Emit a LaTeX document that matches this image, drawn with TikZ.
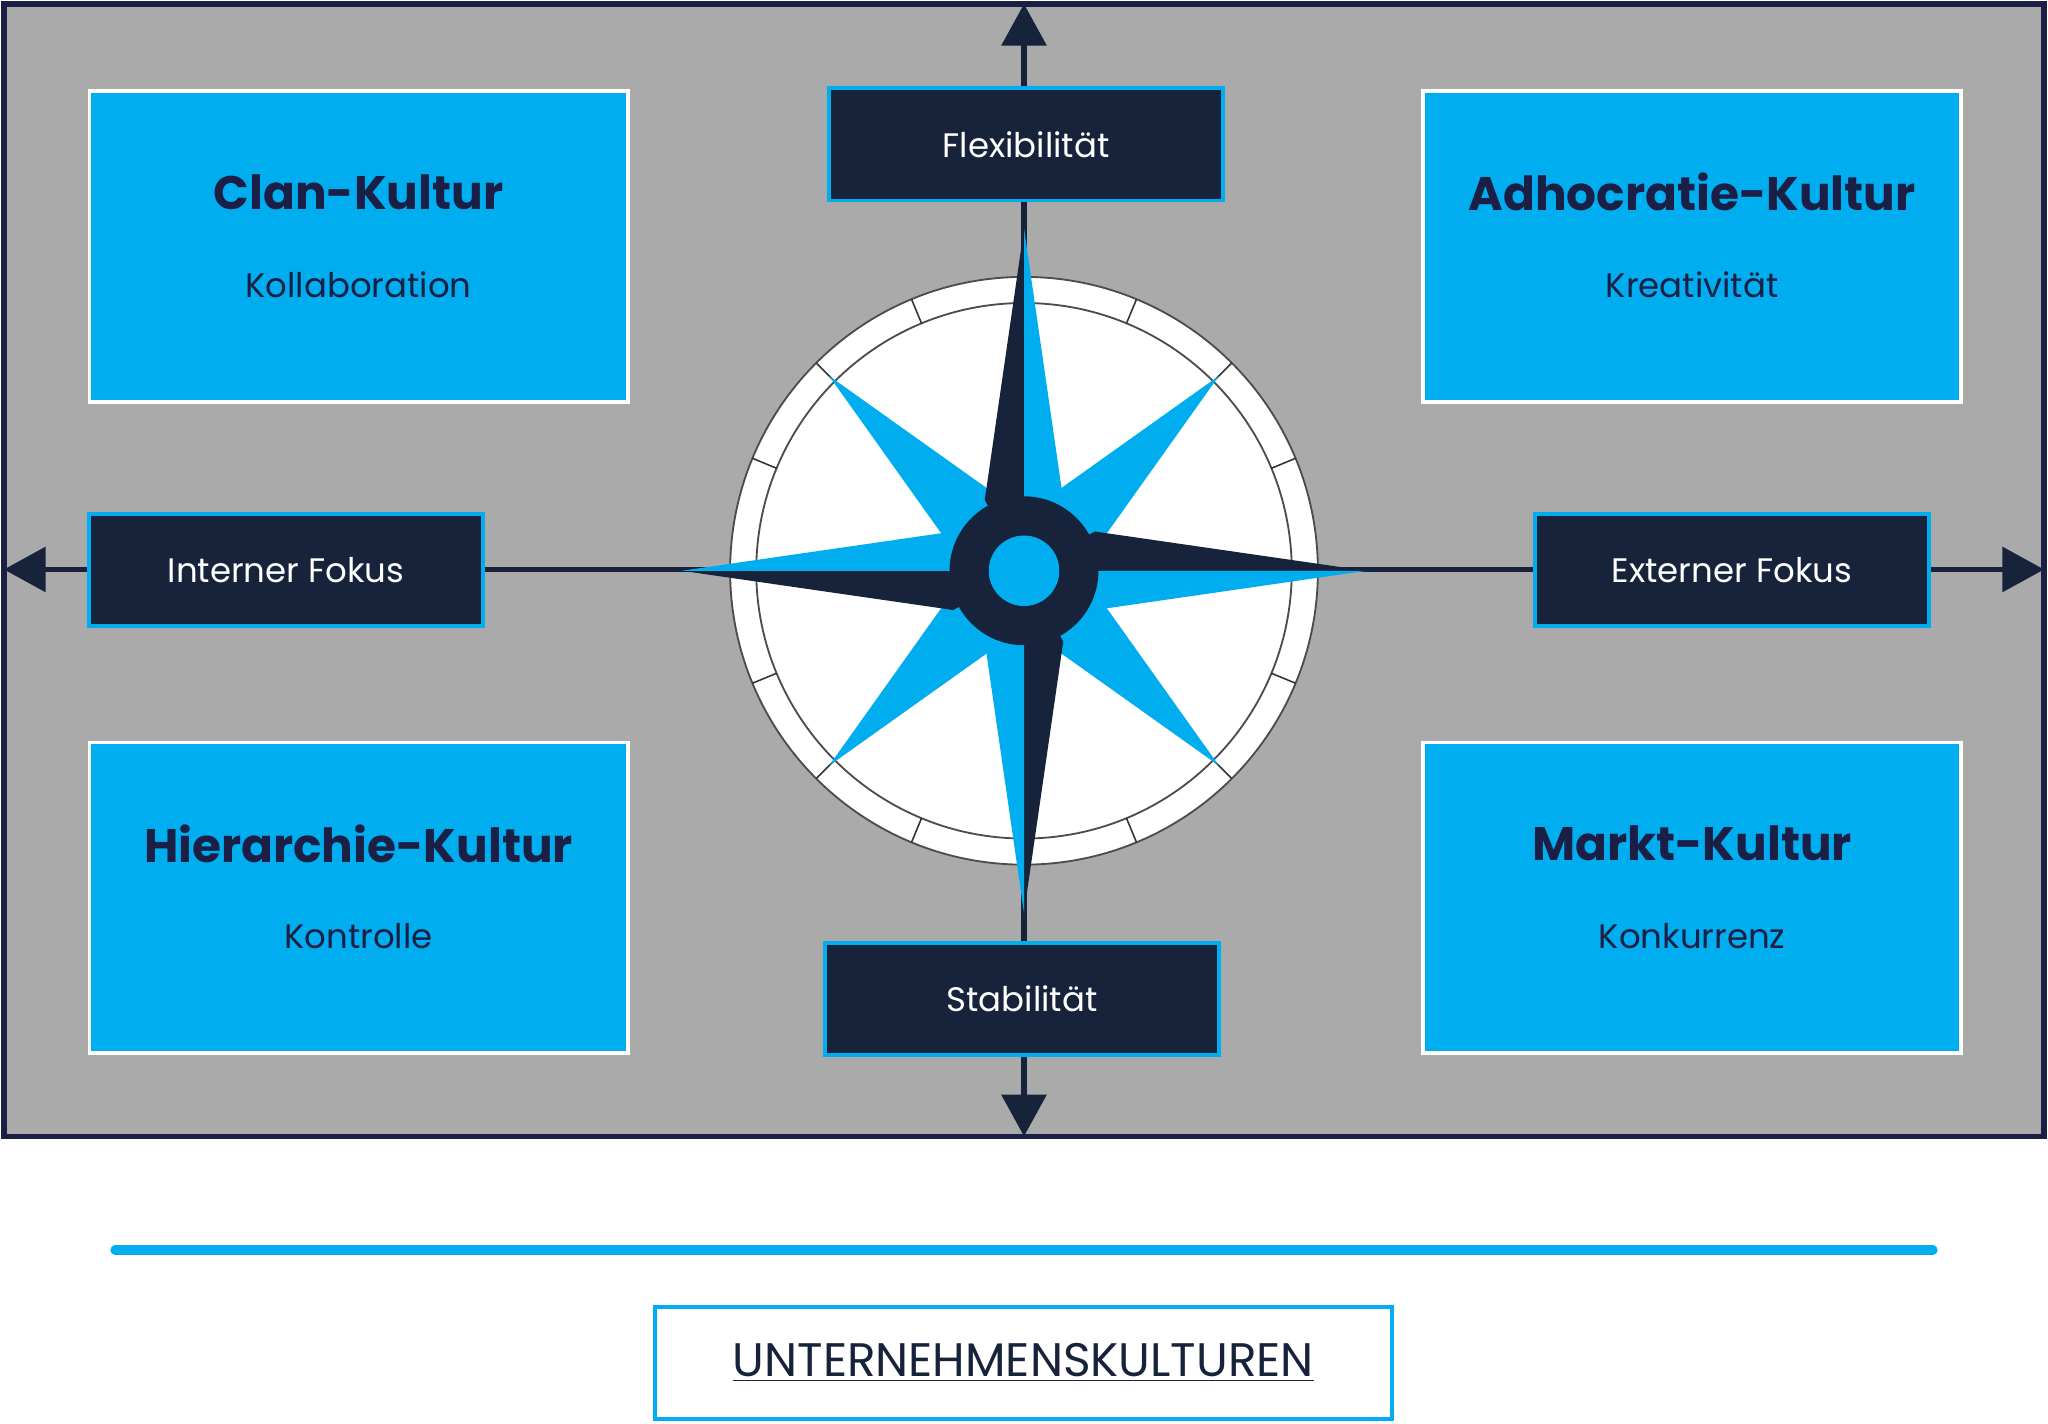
\documentclass[tikz,border=0pt]{standalone}
\usepackage{fontspec}
\setmainfont{Poppins}
\usetikzlibrary{arrows.meta}
\definecolor{navy}{HTML}{17233B}
\definecolor{ink}{HTML}{1B1F45}
\definecolor{sky}{HTML}{00AEEF}
\definecolor{bg}{HTML}{AAAAAA}
\begin{document}
\begin{tikzpicture}[x=0.5pt,y=-0.5pt,
 quad/.style={draw=white,line width=1.5pt,fill=sky,minimum width=206pt,minimum height=119pt,anchor=north west,inner sep=0},
 lab/.style={draw=sky,line width=1.5pt,fill=navy,text=white,minimum width=151pt,minimum height=43pt,font=\fontsize{13}{15}\selectfont,inner sep=0},
 ttl/.style={text=ink,font=\fontsize{18}{20}\selectfont\bfseries},
 sub/.style={text=ink,font=\fontsize{13}{15}\selectfont},
 axis/.style={draw=navy,line width=2pt,-{Triangle[length=16pt,width=17pt]}}]
\useasboundingbox (0,0) rectangle (1568,1090);
\fill[white] (0,0) rectangle (1568,1090);
\draw[fill=bg,draw=ink,line width=2pt] (3,3) rectangle (1565,870);
\coordinate (c) at (784,436);
\coordinate (top) at (784,3); \coordinate (bot) at (784,870);
\coordinate (lft) at (3,436); \coordinate (rgt) at (1565,436);
\draw[axis] (c) -- (top);
\draw[axis] (c) -- (bot);
\draw[axis] (c) -- (lft);
\draw[axis] (c) -- (rgt);
% quadrants
\node[quad] (clan) at (67,68) {};
\node[quad] (adho) at (1088,68) {};
\node[quad] (hier) at (67,567) {};
\node[quad] (mark) at (1088,567) {};
\foreach \n/\t/\s in {clan/Clan-Kultur/Kollaboration,adho/Adhocratie-Kultur/Kreativität,hier/Hierarchie-Kultur/Kontrolle,mark/Markt-Kultur/Konkurrenz}{
 \node[ttl] (\n-t) at ([yshift=-39.5pt]\n.north) {\t};
 \node[sub] (\n-s) at ([yshift=-75pt]\n.north) {\s};
}
% compass
\begin{scope}[shift={(784,437)}]
\draw[fill=white,draw=black!70,line width=0.7pt] (0,0) circle (225);
\draw[draw=black!70,line width=0.7pt] (0,0) circle (205);
\foreach \a in {22.5,67.5,...,360}{\draw[black!80,line width=0.6pt] (\a:205) -- (\a:225);}
\foreach \a in {45,135,225,315}{\draw[black!80,line width=0.6pt] (\a:205) -- (\a:225);
 \fill[sky] (0,0) -- (\a+30:55) -- (\a:211) -- (\a-30:55) -- cycle;}
\foreach \a in {-90,0,90,180}{
 \fill[navy] (0,0) -- (\a-29:62) -- (\a:262) -- cycle;
 \fill[sky] (0,0) -- (\a+29:62) -- (\a:262) -- cycle;}
\fill[navy] (0,0) circle (57);
\fill[sky] (0,0) circle (27);
\end{scope}
% axis labels
\node[lab] (flex) at (785.5,110.5) {Flexibilität};
\node[lab] (stab) at (782.5,765) {Stabilität};
\node[lab] (int) at (219,436.5) {Interner Fokus};
\node[lab] (ext) at (1326,436.5) {Externer Fokus};
% bottom
\coordinate (l1) at (88,957); \coordinate (l2) at (1480,957);
\draw[sky,line width=3.5pt,line cap=round] (l1) -- (l2);
\node[draw=sky,line width=1.5pt,fill=white,minimum width=282pt,minimum height=43pt,inner sep=0,text=navy,font=\fontsize{18}{20}\selectfont] (uk) at (783.5,1043.5) {\underline{UNTERNEHMENSKULTUREN}};
\end{tikzpicture}
\end{document}
